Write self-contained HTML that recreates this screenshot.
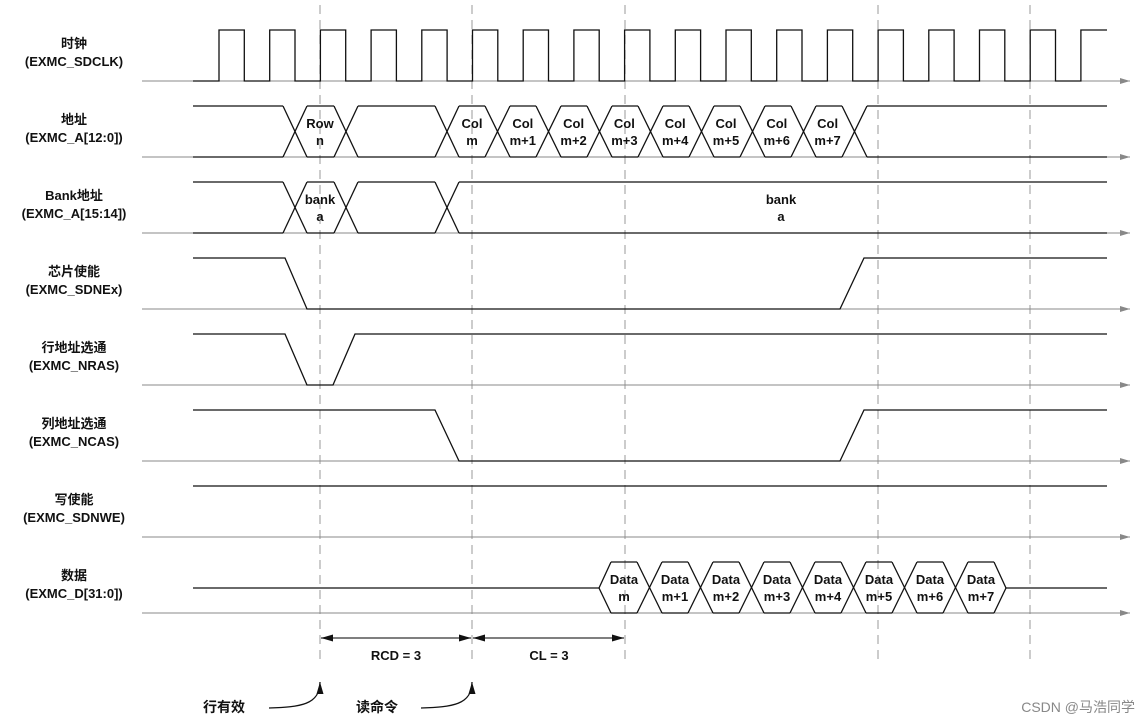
<!DOCTYPE html>
<html><head><meta charset="utf-8"><style>
html,body{margin:0;padding:0;background:#fff;}
svg{display:block;}
text{font-family:"Liberation Sans","Noto Sans CJK SC",sans-serif;font-weight:bold;font-size:13px;fill:#111;}
</style></head><body>
<svg id="s" width="1148" height="725" viewBox="0 0 1148 725" xmlns="http://www.w3.org/2000/svg">
<defs>
<marker id="ga" markerWidth="10" markerHeight="8" refX="10" refY="4" orient="auto" markerUnits="userSpaceOnUse"><path d="M0,1 L10,4 L0,7 Z" fill="#888"/></marker>
<marker id="ba" markerWidth="12" markerHeight="8" refX="12" refY="4" orient="auto-start-reverse" markerUnits="userSpaceOnUse"><path d="M0,0.5 L12,4 L0,7.5 Z" fill="#111"/></marker>
</defs>
<g id="g"></g>
</svg>
<script>
var s='';
function L(x1,y1,x2,y2,st){s+='<line x1="'+x1+'" y1="'+y1+'" x2="'+x2+'" y2="'+y2+'" '+(st||'stroke="#111" stroke-width="1.3"')+'/>';}
function T(x,y,t,extra){s+='<text x="'+x+'" y="'+y+'" text-anchor="middle" '+(extra||'')+'>'+t+'</text>';}
// dashed verticals
[320,472,625,878,1030].forEach(function(x){L(x,5,x,662,'stroke="#999" stroke-width="1" stroke-dasharray="9,6"');});
// gray axes
[81,157,233,309,385,461,537,613].forEach(function(y){L(142,y,1130,y,'stroke="#888" stroke-width="1" marker-end="url(#ga)"');});
// labels
var labs=[["时钟","(EXMC_SDCLK)"],["地址","(EXMC_A[12:0])"],["Bank地址","(EXMC_A[15:14])"],["芯片使能","(EXMC_SDNEx)"],["行地址选通","(EXMC_NRAS)"],["列地址选通","(EXMC_NCAS)"],["写使能","(EXMC_SDNWE)"],["数据","(EXMC_D[31:0])"]];
labs.forEach(function(l,i){var y=48+76*i;T(74,y,l[0]);T(74,y+18,l[1]);});
// clock
var d='M193 81 H219';var x=219;
for(var k=0;k<18;k++){var r=219+k*50.7;d+=' H'+r.toFixed(1)+' V30 H'+(r+25.3).toFixed(1)+(k<17?' V81':'');}
d+=' H1107';
s+='<path d="'+d+'" fill="none" stroke="#111" stroke-width="1.3"/>';
function bus(top,bot,trans,end){
  var cells=[];var prev=193;
  trans.forEach(function(t){cells.push([prev,t[0]]);prev=t[1];});
  cells.push([prev,end]);
  cells.forEach(function(c){L(c[0],top,c[1],top);L(c[0],bot,c[1],bot);});
  trans.forEach(function(t){L(t[0],top,t[1],bot);L(t[0],bot,t[1],top);});
}
var at=[[283,307],[334,358],[435,459]];
for(var k=0;k<8;k++){at.push([485+51*k,510+51*k]);}
bus(106,157,at,1107);
bus(182,233,[[283,307],[334,358],[435,459]],1107);
T(320,128,"Row");T(320,145,"n");
var cl=["m","m+1","m+2","m+3","m+4","m+5","m+6","m+7"];
for(var k=0;k<8;k++){var cx=472+50.8*k;T(cx,128,"Col");T(cx,145,cl[k]);}
T(320,204,"bank");T(320,221,"a");T(781,204,"bank");T(781,221,"a");
// SDNEx
s+='<polyline points="193,258 285,258 307,309 840,309 864,258 1107,258" fill="none" stroke="#111" stroke-width="1.3"/>';
s+='<polyline points="193,334 285,334 307,385 333,385 355,334 1107,334" fill="none" stroke="#111" stroke-width="1.3"/>';
s+='<polyline points="193,410 435,410 459,461 840,461 864,410 1107,410" fill="none" stroke="#111" stroke-width="1.3"/>';
L(193,486,1107,486);
// data
L(193,588,599,588);
for(var k=0;k<8;k++){var a=611+51*k,b=a+26;
  var lx=(k==0)?599:a-12.5, rx=(k==7)?b+12:b+12.5;
  if(k==0){L(599,588,611,562);L(599,588,611,613);}
  L(a,562,b,562);L(a,613,b,613);
  if(k<7){L(b,562,b+25,613);L(b,613,b+25,562);}else{L(b,562,b+12,588);L(b,613,b+12,588);}
  T(a+13,584,"Data");T(a+13,601,cl[k]);
}
L(1006,588,1107,588);
// timing arrows
L(321,638,471,638,'stroke="#333" stroke-width="1.3" marker-start="url(#ba)" marker-end="url(#ba)"');
L(473,638,624,638,'stroke="#333" stroke-width="1.3" marker-start="url(#ba)" marker-end="url(#ba)"');
T(396,660,"RCD = 3");T(549,660,"CL = 3");
s+='<path d="M269,708 C300,707 320,705 320,682" fill="none" stroke="#111" stroke-width="1.3" marker-end="url(#ba)"/>';
s+='<path d="M421,708 C452,707 472,705 472,682" fill="none" stroke="#111" stroke-width="1.3" marker-end="url(#ba)"/>';
T(224,712,"行有效",'style="font-size:14px"');T(377,712,"读命令",'style="font-size:14px"');
s+='<text x="1135" y="712" text-anchor="end" style="font-weight:normal;font-size:14px;fill:#888">CSDN @马浩同学</text>';
document.getElementById('g').innerHTML=s;
</script>
</body></html>
